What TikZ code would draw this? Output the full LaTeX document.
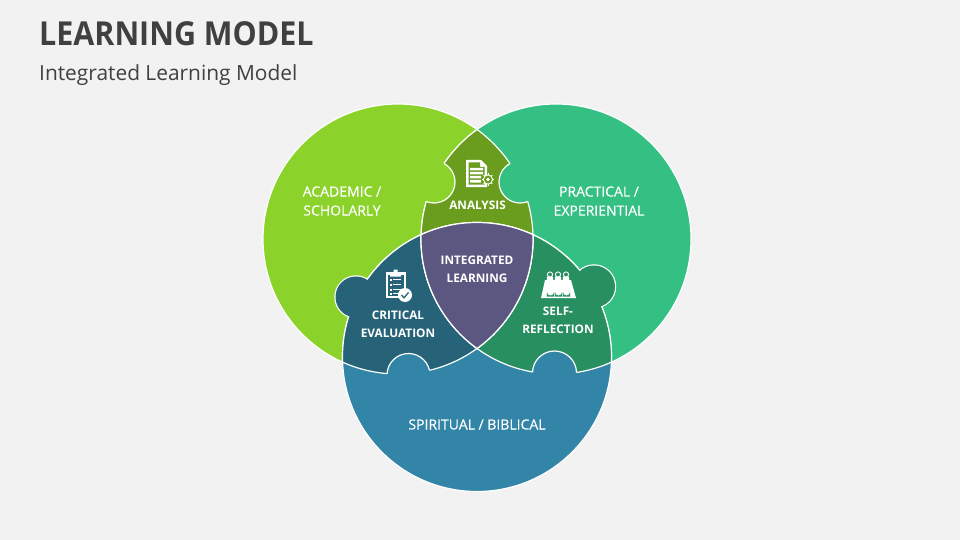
\documentclass[tikz,border=0pt]{standalone}
\usepackage{fontspec}
\setmainfont{Open Sans}
\newfontfamily\titlefont[FakeStretch=0.922]{Open Sans}
\newfontfamily\labfont[FakeBold=0.35]{Open Sans}
\definecolor{bgc}{HTML}{F2F2F2}
\definecolor{limec}{HTML}{8BD32A}
\definecolor{greenc}{HTML}{35C083}
\definecolor{bluec}{HTML}{3385A8}
\definecolor{olivec}{HTML}{6A9C1E}
\definecolor{tealc}{HTML}{266378}
\definecolor{dgreenc}{HTML}{288F60}
\definecolor{purplec}{HTML}{5C5780}
\definecolor{inkc}{HTML}{404040}
\tikzset{
 edge/.style={draw=white,line width=1.2pt},
 edgeb/.style={draw=white,line width=2.4pt},
 lab/.style={text=white,align=center,font=\labfont\fontsize{14}{19}\selectfont,inner sep=0pt},
 blab/.style={text=white,align=center,font=\fontsize{11.8}{18}\selectfont\bfseries,inner sep=0pt},
}
\def\CL{(398,239) circle [radius=135]}
\def\CR{(556,239) circle [radius=135]}
\def\CB{(477,357) circle [radius=134.5]}
\def\NA{(434,182) circle [radius=21]}
\def\NB{(520,182) circle [radius=21]}
\def\BL{(356,297) circle [radius=20.5]}
\def\BR{(594,286.5) circle [radius=21]}
\def\TL{(408.5,375) circle [radius=21.5]}
\def\TR{(554.5,373) circle [radius=22]}
\begin{document}
\begin{tikzpicture}[x=1pt,y=-1pt]
\useasboundingbox (0,0) rectangle (960,540);
\fill[bgc] (0,0) rectangle (960,540);
\node (title) [anchor=base west,inner sep=0pt,text=inkc,font=\titlefont\fontsize{33}{36}\selectfont\bfseries] at (39,46) {LEARNING MODEL};
\node (subtitle) [anchor=base west,inner sep=0pt,text=inkc,font=\fontsize{20.9}{24}\selectfont] at (39,81) {Integrated Learning Model};
% three circles
\path[fill=limec,edge] \CL;
\path[fill=greenc,edge] \CR;
\path[fill=bluec,edge] \CB;
% outward tabs: outline first
\path[edgeb] \BL;
\path[edgeb] \BR;
% pair regions
\begin{scope}\clip \CL;\fill[olivec] \CR;\end{scope}
\begin{scope}\clip \CL;\fill[tealc] \CB;\end{scope}
\begin{scope}\clip \CR;\fill[dgreenc] \CB;\end{scope}
\begin{scope}\clip \CL;\path[edge] \CR;\end{scope}
\begin{scope}\clip \CR;\path[edge] \CL;\end{scope}
\begin{scope}\clip \CL;\path[edge] \CB;\end{scope}
\begin{scope}\clip \CB;\path[edge] \CL;\end{scope}
\begin{scope}\clip \CR;\path[edge] \CB;\end{scope}
\begin{scope}\clip \CB;\path[edge] \CR;\end{scope}
% tab fills
\fill[tealc] \BL;
\fill[dgreenc] \BR;
% notches
\fill[limec] \NA;
\fill[greenc] \NB;
\fill[bluec] \TL;
\fill[bluec] \TR;
\begin{scope}\clip \CL;\clip \CR;\path[edge] \NA;\path[edge] \NB;\end{scope}
\begin{scope}\clip \CL;\clip \CB;\path[edge] \TL;\end{scope}
\begin{scope}\clip \CR;\clip \CB;\path[edge] \TR;\end{scope}
% centre
\begin{scope}\clip \CL;\clip \CR;\fill[purplec] \CB;\end{scope}
\begin{scope}\clip \CR;\clip \CB;\path[edge] \CL;\end{scope}
\begin{scope}\clip \CL;\clip \CB;\path[edge] \CR;\end{scope}
\begin{scope}\clip \CL;\clip \CR;\path[edge] \CB;\end{scope}
% labels
\node (academic) [lab] at (342,201) {ACADEMIC /\\SCHOLARLY};
\node (practical) [lab] at (599,201) {PRACTICAL /\\EXPERIENTIAL};
\node (spiritual) [lab] at (477,424.5) {SPIRITUAL / BIBLICAL};
\node (analysis) [blab] at (477.5,205) {ANALYSIS};
\node (integrated) [blab] at (477,269) {INTEGRATED\\LEARNING};
\node (critical) [blab] at (398,324) {CRITICAL\\EVALUATION};
\node (self) [blab] at (558,320.5) {SELF-\\REFLECTION};
% document icon
\fill[white] (466,160) -- (481,160) -- (487,166) -- (487,187) -- (466,187) -- cycle;
\fill[olivec] (468.5,162.5) -- (480,162.5) -- (480,167) -- (484.5,167) -- (484.5,184.5) -- (468.5,184.5) -- cycle;
\fill[white] (470,168) rectangle (483,170.5) (470,172) rectangle (483,174.5) (470,176) rectangle (481,178.5) (470,180) rectangle (481,182.5);
% gear icon
\draw[white,line width=0.9pt,fill=olivec] (488,179.5) circle [radius=4.6];
\fill[white] (488,179.5) circle [radius=1.8];
\foreach \a in {0,45,...,315}{\draw[white,line width=1pt] (488,179.5) ++(\a:4.6) -- ++(\a:1.6);}
% clipboard icon
\fill[white] (385.5,272) rectangle (405.5,297.5);
\fill[tealc] (387.5,275) rectangle (403.5,295.5);
\fill[white] (390,272.5) rectangle (401,276.5) (393.5,269.5) rectangle (397.5,273);
\foreach \y in {279,284,289,293}{\fill[white] (393,\y) rectangle (401,\y+1.2); \fill[white] (389.5,\y-0.4) rectangle (391.5,\y+1.6);}
\fill[white] (405,295) circle [radius=7];
\draw[tealc,line width=1.3pt] (401.5,295) -- (404,297.8) -- (408.5,292.5);
% people table icon
\foreach \x in {550,558,566}{
 \draw[white,line width=0.9pt] (\x,274.5) circle [radius=2.6];
 \fill[white] (\x-3,276.5) -- (\x+3,276.5) -- (\x+3.5,283) -- (\x-3.5,283) -- cycle;
}
\fill[white] (545,280) -- (571,280) -- (576,298) -- (541,298) -- cycle;
\foreach \x in {550.5,558.5,566.5}{
 \fill[dgreenc] (\x-3.6,296.5) -- (\x-3.6,292) arc[start angle=180,end angle=0,radius=3.6] -- (\x+3.6,296.5) -- cycle;
}
\end{tikzpicture}
\end{document}
